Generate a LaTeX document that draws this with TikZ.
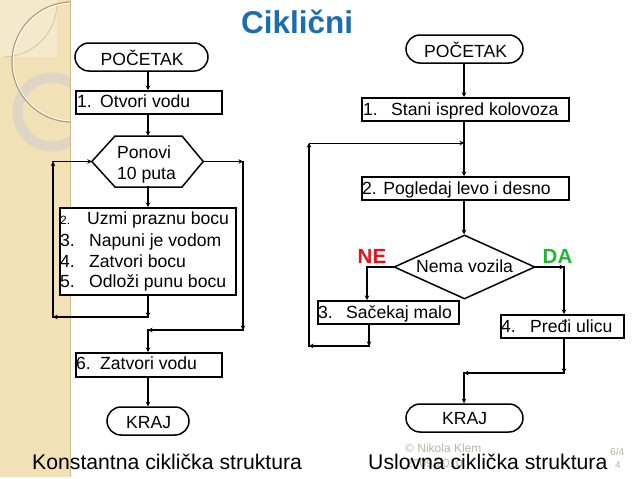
\documentclass[tikz,border=0pt]{standalone}
\usepackage{fontspec}
\setmainfont{Liberation Sans}
\usetikzlibrary{arrows.meta,shapes.misc,shapes.geometric,calc}
\definecolor{beige}{HTML}{F2E0B6}
\definecolor{beiged}{HTML}{CDB88F}
\definecolor{ringc}{HTML}{DDD6C4}
\definecolor{arcd}{HTML}{A89C82}
\definecolor{titleblue}{HTML}{1C6DB0}
\definecolor{nered}{HTML}{E0141E}
\definecolor{dagreen}{HTML}{22B532}
\definecolor{foot}{HTML}{BDB5A0}
\tikzset{x=1pt,y=-1pt,
 flow/.style={line width=1.5pt,line cap=rect,-{Stealth[length=4.5pt,width=4.5pt]}},
 plain/.style={line width=1.5pt,line cap=rect},
 box/.style={draw,line width=1.5pt,fill=white,inner sep=0pt,anchor=north west},
 term/.style={rounded rectangle,draw,line width=1.5pt,fill=white,inner sep=0pt,minimum height=28pt},
 txt/.style={font=\fontsize{17.6}{20}\selectfont,inner sep=0pt,anchor=base west},
 captxt/.style={txt,font=\fontsize{21.2}{24}\selectfont},
 big/.style={txt,font=\fontsize{20.5}{24}\selectfont\bfseries},
 foottxt/.style={txt,font=\fontsize{12}{14}\selectfont,text=foot},
}
\begin{document}
\begin{tikzpicture}
\useasboundingbox (0,0) rectangle (638,479);
\fill[white] (0,0) rectangle (638,479);
% background panel
\fill[beige] (0,0) rectangle (70,477);
\fill[beiged] (70,0) rectangle (71,477);
\begin{scope}
\clip (0,0) rectangle (70,477);
\fill[white,opacity=.3] (0,0) rectangle (57,57);
\draw[line width=.8pt,beiged!70!beige] (57,3) arc[start angle=0,end angle=90,radius=54] ;
\draw[line width=10pt,ringc] (52,112) circle (34.5);
\draw[line width=1.2pt,arcd] (72,62) circle (60);
\draw[line width=.7pt,white] (72,62) circle (58.8);
\end{scope}
% guides
\coordinate (cl) at (148,0);
\coordinate (cr) at (464,0);
% left flowchart
\node[term,minimum width=133pt] (a0) at (141.5,57) {};
\node[box,minimum width=146pt,minimum height=23pt] (a1) at (75,90) {};
\node[inner sep=0pt,minimum width=111pt,minimum height=51pt] (a2) at (147.5,161.5) {};
\draw[line width=1.5pt,fill=white,line join=miter] (a2.west) -- (115,136) -- (182,136) -- (a2.east) -- (182,187) -- (115,187) -- cycle;
\node[box,minimum width=176pt,minimum height=87pt] (a3) at (59,207) {};
\node[box,minimum width=146pt,minimum height=24pt] (a4) at (75,352) {};
\node[term,minimum width=82pt] (a5) at (148,421) {};
\coordinate (am) at (148,317);
\coordinate (al) at (53,317);
\coordinate (alt) at (53,161.5);
\coordinate (ar) at (243,161.5);
\coordinate (arb) at (243,330);
\coordinate (amr) at (148,330);
\draw[flow] (cl |- a0.south) -- (cl |- a1.north);
\draw[flow] (cl |- a1.south) -- (cl |- a2.north);
\draw[flow] (cl |- a2.south) -- (cl |- a3.north);
\draw[flow] (cl |- a3.south) -- (am);
\draw[flow] (am) -- (al);
\draw[flow] (al) -- (alt);
\draw[flow] (alt) -- (a2.west);
\draw[flow] (a2.east) -- (ar);
\draw[flow] (ar) -- (arb);
\draw[flow] (arb) -- (amr);
\draw[flow] (amr) -- (cl |- a4.north);
\draw[flow] (cl |- a4.south) -- (a5.north);
% left text
\node[txt] (t0) at (100.5,65) {POČETAK};
\node[txt] (t1) at (77,107) {1.};
\node[txt] (t1b) at (100,107) {Otvori vodu};
\node[txt] (t2) at (117,158) {Ponovi};
\node[txt] (t3) at (117,179) {10 puta};
\node[txt,font=\fontsize{12}{14}\selectfont] (t4a) at (60,224) {2.};
\node[txt] (t4) at (87,224) {Uzmi praznu bocu};
\node[txt] (t5a) at (60,246) {3.};
\node[txt] (t5) at (89,246) {Napuni je vodom};
\node[txt] (t6a) at (60,267) {4.};
\node[txt] (t6) at (89,267) {Zatvori bocu};
\node[txt] (t7a) at (60,287) {5.};
\node[txt] (t7) at (89,287) {Odloži punu bocu};
\node[txt] (t8a) at (76,369) {6.};
\node[txt] (t8) at (100,369) {Zatvori vodu};
\node[txt] (t9) at (126,428) {KRAJ};
% right flowchart
\node[term,minimum width=117pt] (b0) at (464.5,49) {};
\node[box,minimum width=207pt,minimum height=23pt] (b1) at (361,97) {};
\node[box,minimum width=207pt,minimum height=23pt] (b2) at (361,176) {};
\node[diamond,aspect=2.2,draw,line width=1.5pt,fill=white,inner sep=0pt,minimum width=141pt,minimum height=64pt] (b6) at (464.5,267) {};
\node[box,minimum width=141pt,minimum height=23pt] (b3) at (317,300) {};
\node[box,minimum width=123pt,minimum height=23pt] (b4) at (500,314) {};
\node[term,minimum width=117pt] (b5) at (464.5,418) {};
\coordinate (bj) at (464,143);
\coordinate (bl) at (309,143);
\coordinate (bb) at (309,346);
\coordinate (bm) at (369,346);
\coordinate (bn) at (367,267);
\coordinate (bd) at (564,267);
\coordinate (be) at (564,373);
\coordinate (bf) at (464,373);
\draw[flow] (cr |- b0.south) -- (cr |- b1.north);
\draw[flow] (cr |- b1.south) -- (cr |- b2.north);
\draw[flow,line width=1pt] (bl) -- (bj);
\draw[flow] (cr |- b2.south) -- (cr |- b6.north);
\draw[plain] (b6.west) -- (bn);
\draw[flow] (bn) -- (bn |- b3.north);
\draw[flow] (b6.east) -- (bd);
\draw[flow] (bd) -- (bd |- b4.north);
\draw[flow] (bm |- b3.south) -- (bm);
\draw[flow] (bm) -- (bb);
\draw[flow] (bb) -- (bl);
\draw[flow] (be |- b4.south) -- (be);
\draw[flow] (be) -- (bf);
\draw[flow] (bf) -- (cr |- b5.north);
% right text
\node[txt] (u0) at (424,57) {POČETAK};
\node[txt] (u1a) at (363,115) {1.};
\node[txt] (u1) at (391,115) {Stani ispred kolovoza};
\node[txt] (u2) at (362,194) {2. Pogledaj levo i desno};
\node[txt] (u3) at (416,272) {Nema vozila};
\node[txt] (u4a) at (318,318) {3.};
\node[txt] (u4) at (346,318) {Sačekaj malo};
\node[txt] (u5a) at (501,332) {4.};
\node[txt] (u5) at (530,332) {Pređi ulicu};
\node[txt] (u6) at (442,424) {KRAJ};
\node[big,text=nered] (ne) at (357.5,263) {NE};
\node[big,text=dagreen] (da) at (542.5,263) {DA};
% title, footer and captions
\node[txt,font=\fontsize{31.5}{36}\selectfont\bfseries,text=titleblue] (ti) at (241,34) {Ciklični};
\node[foottxt] (f1) at (405,452) {© Nikola Klem};
\node[foottxt] (f2) at (406,467) {2009/2010};
\node[foottxt,font=\fontsize{10}{12}\selectfont] (f3) at (610,455) {6/4};
\node[foottxt,font=\fontsize{10}{12}\selectfont] (f4) at (615,468) {4};
\node[captxt] (c1) at (32,469) {Konstantna ciklička struktura};
\node[captxt] (c2) at (368,469) {Uslovna ciklička struktura};
\end{tikzpicture}
\end{document}
